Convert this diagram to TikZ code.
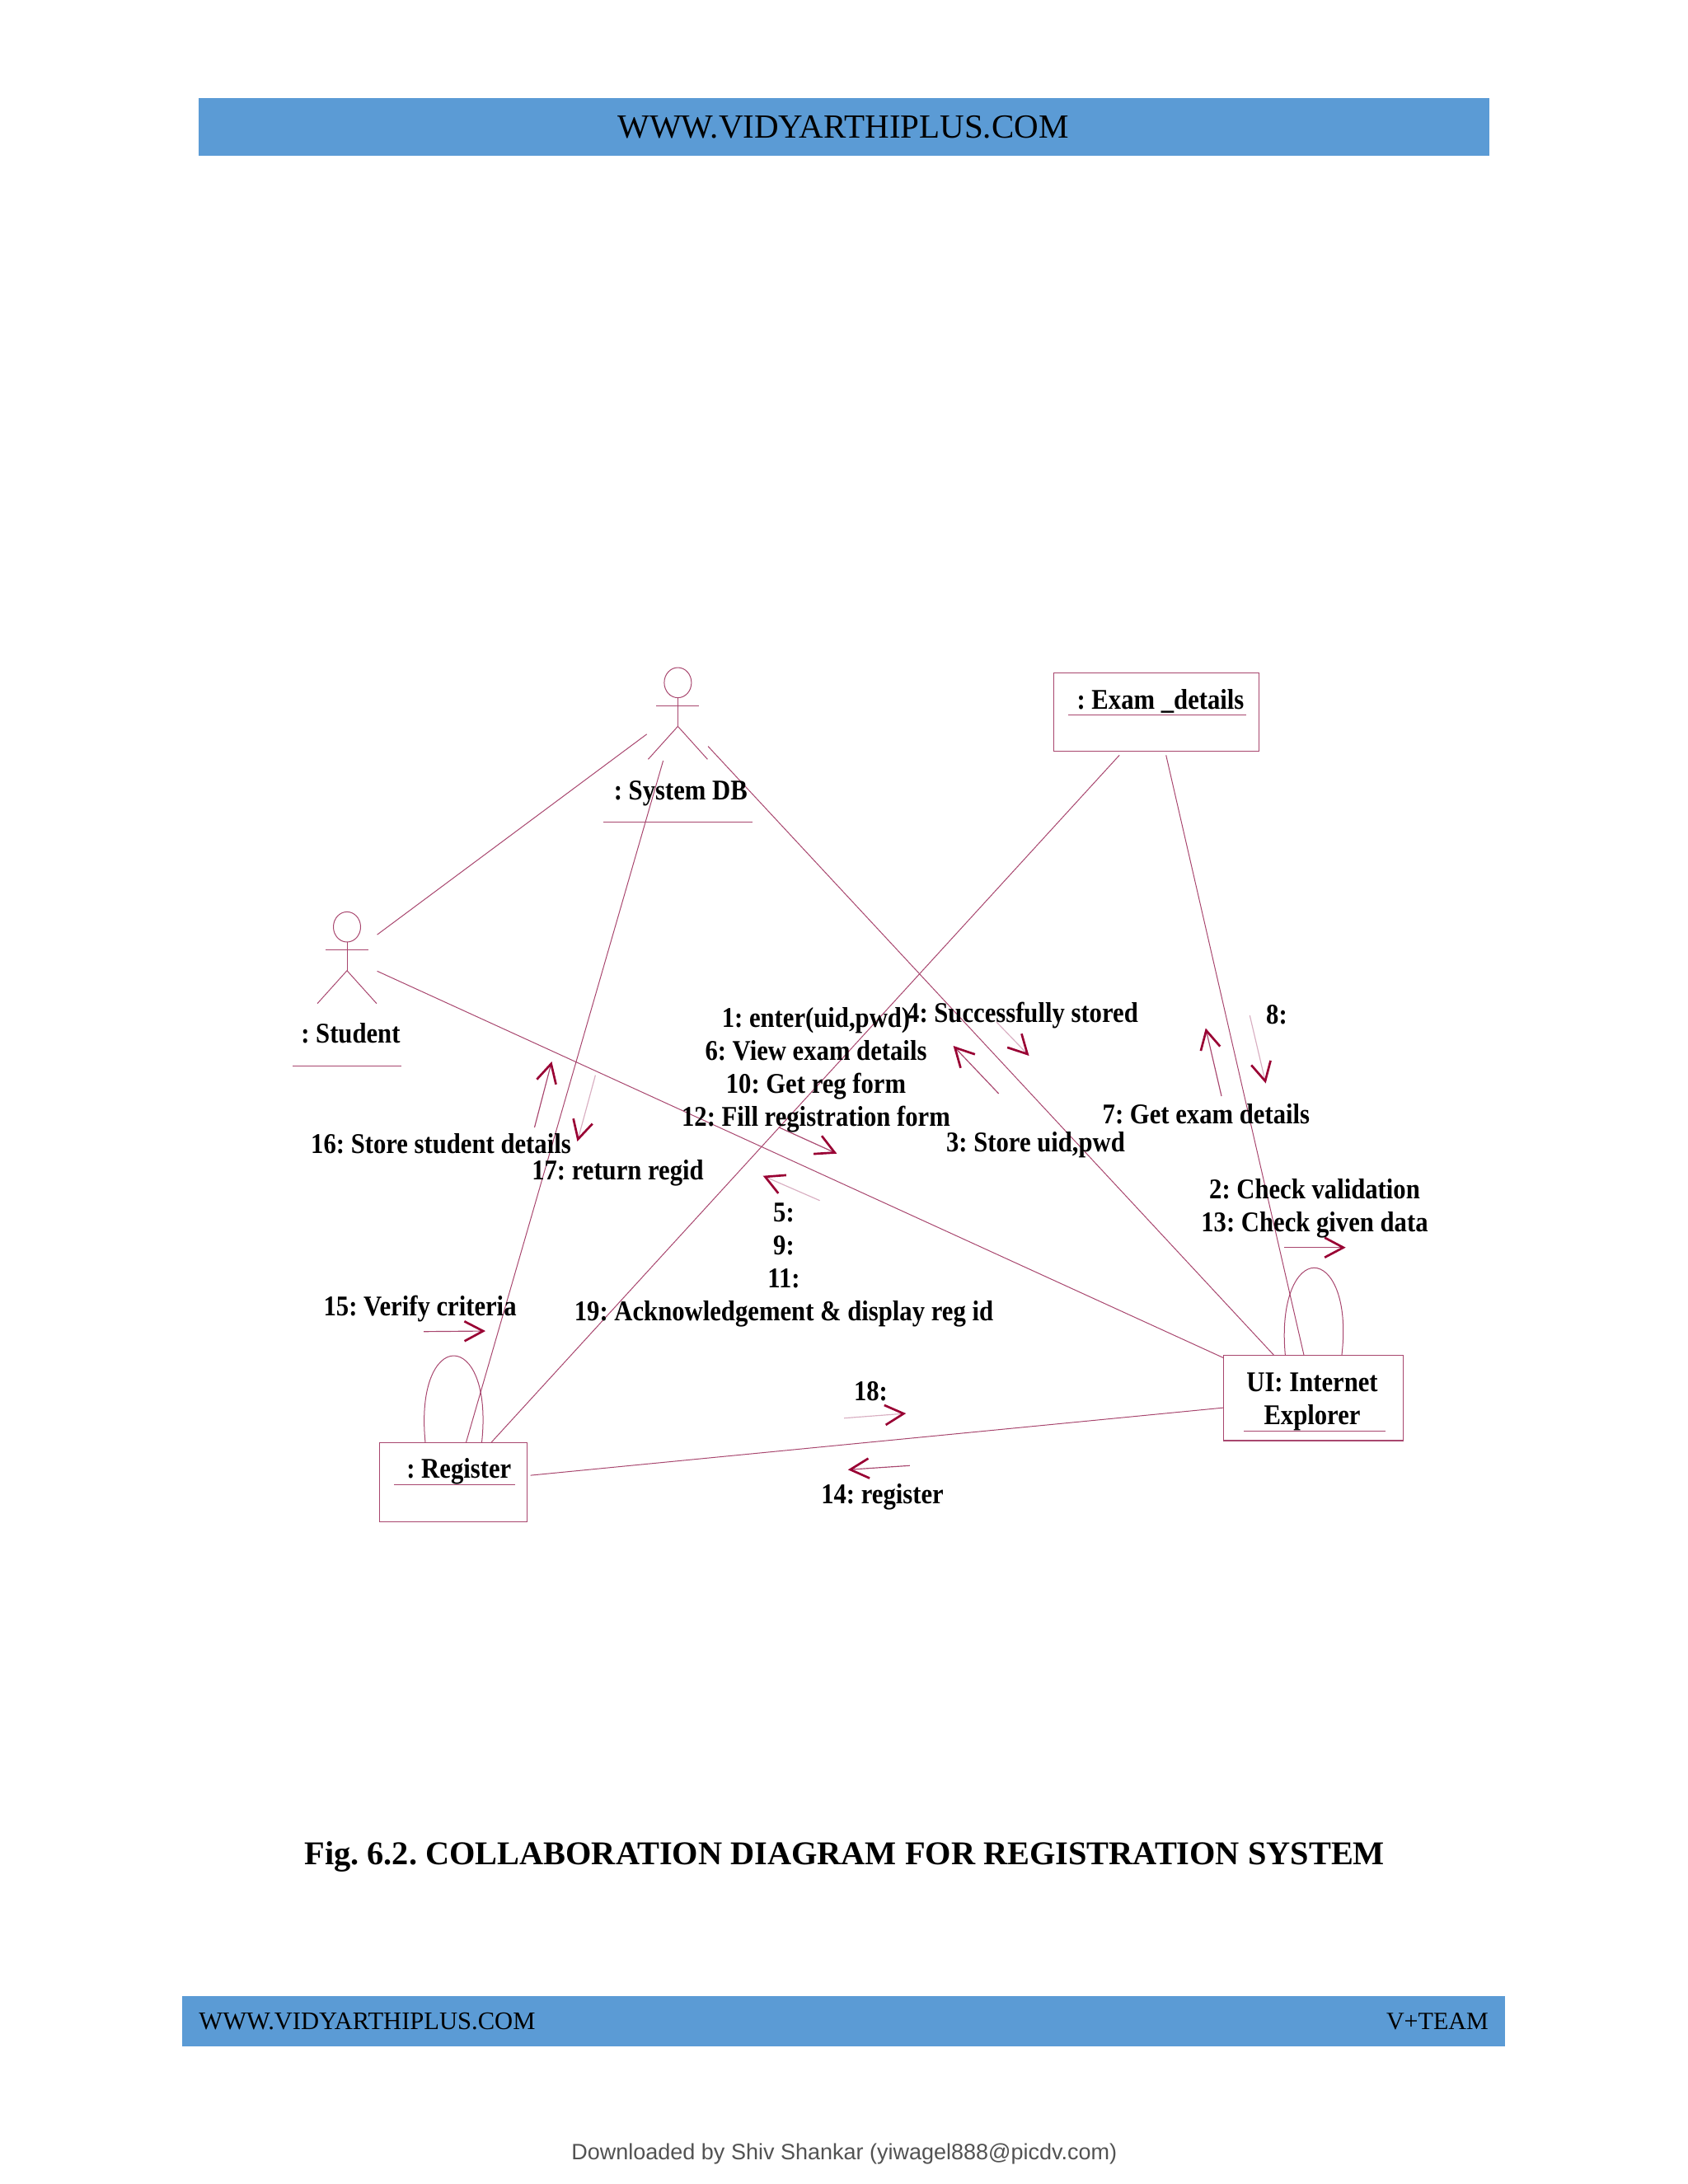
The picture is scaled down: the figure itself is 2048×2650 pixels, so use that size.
\documentclass[tikz,border=0pt]{standalone}
\usepackage{fontspec}
\setmainfont{Liberation Serif}
\newfontfamily\footfont{Liberation Sans}
\newfontfamily\narrowfont[FakeStretch=0.885]{Liberation Serif}
\usetikzlibrary{arrows.meta,calc}
\definecolor{barblue}{HTML}{5B9BD5}
\definecolor{umlline}{HTML}{A8466E}
\definecolor{umlpale}{HTML}{D9AFC2}
\definecolor{umlhead}{HTML}{990033}
\tikzset{
	assoc/.style={draw=umlline,line width=0.3pt},
	objbox/.style={draw=umlline,line width=0.35pt,inner sep=0pt},
	msg/.style={line width=0.35pt,-{Straight Barb[length=6.8pt,width=7.2pt,color=umlhead,line width=0.8pt]}},
	lbl/.style={anchor=base,inner sep=0pt,align=center,font=\narrowfont\fontsize{10.4}{12}\selectfont\bfseries\frenchspacing},
	bartext/.style={anchor=base,inner sep=0pt},
}

\begin{document}
\begin{tikzpicture}[x=0.3pt,y=-0.3pt]
	\useasboundingbox (0,0) rectangle (2048,2650);
	% page bars
	\fill[barblue] (241,119) rectangle (1806.6,189);
	\fill[barblue] (221.4,2422.3) rectangle (1826.4,2483.3);
	\node[bartext,font=\fontsize{12.3}{14}\selectfont] (headtext) at (1023,167.7) {WWW.VIDYARTHIPLUS.COM};
	\node[bartext,anchor=base west,font=\fontsize{9.17}{11}\selectfont] (foottext) at (240.8,2462.7) {WWW.VIDYARTHIPLUS.COM};
	\node[bartext,anchor=base east,font=\fontsize{9.02}{11}\selectfont] (teamtext) at (1806.5,2462.7) {V+TEAM};
	\node[bartext,font=\fontsize{12.1}{14}\selectfont\bfseries\frenchspacing] (figtitle) at (1024.8,2262.7) {Fig. 6.2. COLLABORATION DIAGRAM FOR REGISTRATION SYSTEM};
	\node[bartext,text=black!68,font=\footfont\fontsize{8.1}{10}\selectfont] (download) at (1024.3,2620) {Downloaded by Shiv Shankar (yiwagel888@picdv.com)};
	% objects
	\node[objbox,minimum width=74.7pt,minimum height=28.5pt] (exam) at (1403.1,864.25) {};
	\node[objbox,minimum width=53.7pt,minimum height=28.8pt] (reg) at (550,1798.7) {};
	\node[objbox,minimum width=65.4pt,minimum height=31pt] (ui) at (1593.65,1696.35) {};
	% actors
	\foreach \x/\y in {822.4/828.3,421/1124.7} {
		\draw[assoc] (\x,\y) ellipse [x radius=16.5,y radius=18.3];
		\draw[assoc] (\x,\y+18.3) -- (\x,\y+53);
		\draw[assoc] (\x-26,\y+28) -- (\x+26,\y+28);
		\draw[assoc] (\x-36,\y+93) -- (\x,\y+53) -- (\x+36,\y+93);
	}
	\coordinate (sysdbleft) at (784.7,890.8);
	\coordinate (sysdbfoot) at (804.6,923);
	\coordinate (sysdbright) at (859,905.5);
	\coordinate (studenttop) at (457.6,1134.1);
	\coordinate (studentlow) at (457.6,1178.3);
	% links between objects
	\draw[assoc] (studenttop) -- (sysdbleft);
	\draw[assoc] (sysdbfoot) -- ($(reg.north west)+(105.6,0)$);
	\draw[assoc] (sysdbright) -- ($(ui.north west)+(61.3,0)$);
	\draw[assoc] (studentlow) -- ($(ui.north west)+(0,3.3)$);
	\draw[assoc] ($(exam.south west)+(80.1,4)$) -- ($(reg.north west)+(136.2,0)$);
	\draw[assoc] ($(exam.south west)+(136.7,4)$) -- ($(ui.north west)+(97.9,0)$);
	\draw[assoc] ($(reg.north east)+(3.5,40)$) -- ($(ui.north west)+(0,64)$);
	% self links
	\draw[assoc] ($(reg.north west)+(56.1,0)$) .. controls (509,1680) and (530,1645) .. (550.5,1645) .. controls (571,1645) and (592,1680) .. ($(reg.north west)+(124.6,0)$);
	\draw[assoc] ($(ui.north west)+(75.3,0)$) .. controls (1553,1575) and (1574,1538.3) .. (1594.4,1538.3) .. controls (1615,1538.3) and (1636,1575) .. ($(ui.north west)+(143.9,0)$);
	% underlines
	\draw[assoc] (732,997.5) -- (913,997.5);
	\draw[assoc] (355,1293.5) -- (487,1293.5);
	\draw[assoc] (1296,867) -- (1512,867);
	\draw[assoc] (478,1801) -- (624.7,1801);
	\draw[assoc] (1509,1736.7) -- (1681,1736.7);
	% message arrows
	\foreach \n/\xa/\ya/\xb/\yb/\c in {16/648.5/1368/669.4/1288/umlline,
		17/722.4/1304.6/700.5/1385/umlpale,
		12/945.4/1368/1015.3/1399.7/umlline,
		5/994.6/1456.7/925.7/1426.7/umlpale,
		4/1209/1240/1248.5/1281/umlpale,
		3/1211.7/1327/1156.6/1269/umlline,
		7/1482/1330/1462.8/1247.5/umlline,
		8/1516.3/1232/1535.7/1314.5/umlpale,
		2/1558/1513.7/1632.7/1513.7/umlline,
		15/514/1615.7/589/1615/umlline,
		18/1024.2/1720.7/1099.2/1715/umlpale,
		14/1103.8/1778.3/1028.8/1783.3/umlline} {
		\coordinate (from\n) at (\xa,\ya);
		\coordinate (to\n) at (\xb,\yb);
		\draw[msg,draw=\c] (from\n) -- (to\n);
	}
	% labels
	\node[lbl] (sysdbname) at (825.8,970.7) {: System DB};
	\node[lbl] (studentname) at (425.4,1265.8) {: Student};
	\node[lbl] (examname) at (1408,860.4) {: Exam \_details};
	\node[lbl] (regname) at (556.8,1793.3) {: Register};
	\node[lbl] (uiname) at (1592,1728.3) {UI: Internet\\Explorer};
	\node[lbl] (lblenter) at (990,1366) {1: enter(uid,pwd)\\6: View exam details\\10: Get reg form\\12: Fill registration form};
	\node[lbl] (lblstored) at (1240.5,1240.4) {4: Successfully stored};
	\node[lbl] (lbleight) at (1549,1242) {8:};
	\node[lbl] (lblexam) at (1463.4,1363.6) {7: Get exam details};
	\node[lbl] (lbluid) at (1256.5,1397) {3: Store uid,pwd};
	\node[lbl] (lblstudent) at (535,1399.7) {16: Store student details};
	\node[lbl] (lblregid) at (749.5,1431) {17: return regid};
	\node[lbl] (lblcheck) at (1595,1494) {2: Check validation\\13: Check given data};
	\node[lbl] (lblack) at (951,1602.7) {5:\\9:\\11:\\19: Acknowledgement \& display reg id};
	\node[lbl] (lblverify) at (509.6,1596.7) {15: Verify criteria};
	\node[lbl] (lbleighteen) at (1056.5,1699) {18:};
	\node[lbl] (lblregister) at (1070.5,1824) {14: register};
\end{tikzpicture}
\end{document}
